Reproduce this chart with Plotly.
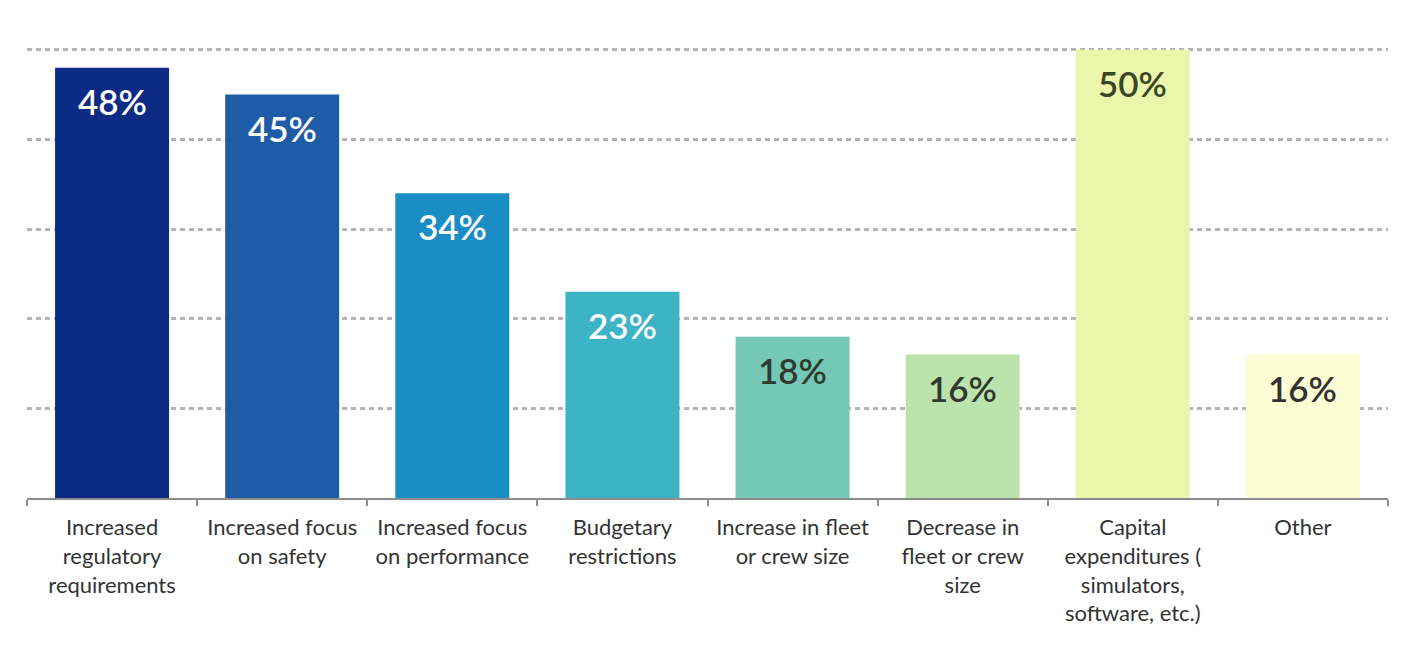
import plotly.graph_objects as go

categories = [
    "Increased<br>regulatory<br>requirements",
    "Increased focus<br>on safety",
    "Increased focus<br>on performance",
    "Budgetary<br>restrictions",
    "Increase in fleet<br>or crew size",
    "Decrease in<br>fleet or crew<br>size",
    "Capital<br>expenditures (<br>simulators,<br>software, etc.)",
    "Other",
]
values = [48, 45, 34, 23, 18, 16, 50, 16]
labels = ["48%", "45%", "34%", "23%", "18%", "16%", "50%", "16%"]
colors = ["#0d2a84", "#1f5ca8", "#1a8ec4", "#3db3c6", "#74c8b5",
          "#bde3ad", "#e9f6ab", "#fdfdd3"]
text_colors = ["#ffffff", "#ffffff", "#ffffff", "#ffffff",
               "#2f3a2f", "#2f3a2f", "#3a4526", "#333333"]

fig = go.Figure()
fig.add_trace(go.Bar(
    x=categories, y=values, marker=dict(color=colors, line=dict(width=0)),
    hoverinfo="skip",
))
for c, v, t, tc in zip(categories, values, labels, text_colors):
    fig.add_annotation(x=c, y=v, text=t, showarrow=False, yanchor="top",
                       yshift=-10,
                       font=dict(family="Lato", size=35, color=tc, weight=600))

fig.update_layout(
    width=1393, height=648,
    margin=dict(l=19, r=13, t=40, b=158),
    paper_bgcolor="white", plot_bgcolor="white",
    bargap=0.33, showlegend=False,
    font=dict(family="Lato", color="#333333"),
)
fig.update_xaxes(
    showline=True, linecolor="#8c8c8c", linewidth=2,
    ticks="outside", tickson="boundaries", ticklen=6, tickcolor="#8c8c8c", tickwidth=2,
    tickfont=dict(family="Lato", size=22, color="#333333"),
    ticklabelstandoff=9,
    showgrid=False,
)
fig.update_yaxes(
    range=[0, 50.2], tickvals=[10, 20, 30, 40, 50], showticklabels=False,
    showgrid=True, gridcolor="#b5b5b5", gridwidth=2.5, griddash="5px,4px",
    zeroline=False, showline=False,
)
fig.write_html("out.html")
